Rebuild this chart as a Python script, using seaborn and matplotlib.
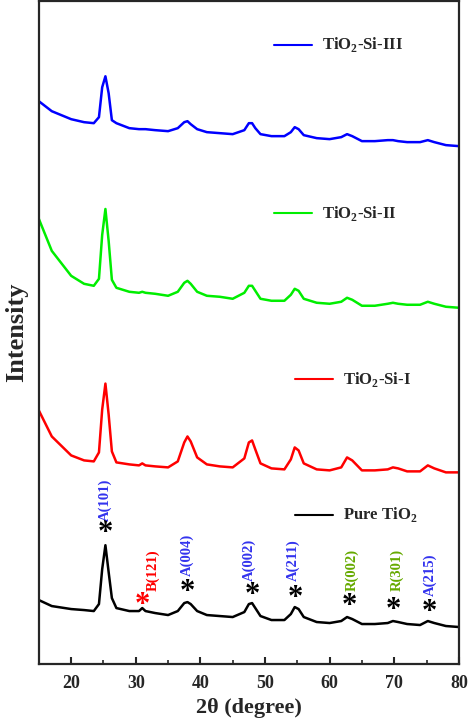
import matplotlib
matplotlib.use("Agg")
import matplotlib.pyplot as plt
import seaborn as sns
import pandas as pd

sns.set_style("ticks")
plt.rcParams['font.family'] = ['Liberation Serif', 'DejaVu Serif']
plt.rcParams['mathtext.fontset'] = 'custom'
plt.rcParams['mathtext.rm'] = 'Liberation Serif'
plt.rcParams['mathtext.bf'] = 'Liberation Serif:bold'

two_theta = [15, 17, 20, 22, 23.5, 24.3, 24.8, 25.3, 25.8, 26.3, 27, 29, 30.5, 31, 31.5, 33, 35, 36.5, 37.5, 38, 38.5, 39.5, 41, 43, 45, 46.8, 47.5, 48, 48.5, 49.3, 51, 53, 54, 54.6, 55.2, 56, 58, 60, 61.8, 62.7, 63.5, 65, 67, 69, 69.8, 70.6, 72, 74, 75.2, 76.2, 78, 80]

pure = [64, 58, 55, 54, 53, 60, 95, 119, 92, 66, 56, 53, 53, 56, 53, 51, 49, 53, 61, 62, 60, 53, 49, 48, 47, 52, 60, 61, 56, 48, 44, 44, 50, 57, 55, 47, 42, 41, 43, 47, 45, 40, 40, 41, 43, 42, 40, 39, 43, 41, 38, 37]
si1 = [254, 228, 209, 204, 203, 212, 255, 281, 250, 213, 202, 200, 199, 201, 199, 198, 197, 203, 222, 228, 223, 207, 200, 198, 197, 206, 222, 224, 215, 201, 196, 195, 205, 217, 214, 201, 195, 194, 197, 207, 204, 194, 194, 195, 197, 196, 193, 193, 199, 196, 192, 192]
si2 = [446, 414, 389, 381, 379, 386, 430, 456, 424, 385, 377, 373, 372, 373, 372, 371, 369, 373, 382, 384, 381, 373, 369, 368, 366, 372, 379, 379, 374, 366, 364, 364, 370, 376, 374, 366, 362, 361, 363, 367, 365, 359, 359, 361, 362, 361, 360, 360, 363, 361, 358, 357]
si3 = [564, 554, 546, 543, 542, 548, 578, 589, 572, 545, 542, 537, 536, 536, 536, 535, 534, 537, 543, 544, 541, 536, 533, 532, 531, 535, 542, 542, 537, 531, 529, 529, 533, 538, 536, 530, 527, 526, 528, 531, 529, 524, 524, 525, 525, 524, 523, 523, 525, 523, 520, 519]

series_names = ["Pure TiO$_\\mathbf{2}$", "TiO$_\\mathbf{2}$-Si-I", "TiO$_\\mathbf{2}$-Si-II", "TiO$_\\mathbf{2}$-Si-III"]
series_vals = [pure, si1, si2, si3]
colors = ["black", "#ff0000", "#00ee00", "#0000ff"]

peak_pos = [25.3, 31.0, 38.0, 48.0, 54.7, 63.0, 69.8, 75.5]
peak_labels = ["A(101)", "B(121)", "A(004)", "A(002)", "A(211)", "R(002)", "R(301)", "A(215)"]
peak_colors = ["#3333ee", "#ff0000", "#3333ee", "#3333ee", "#3333ee", "#66aa00", "#66aa00", "#3333ee"]
star_h = [131, 59, 72, 69, 66, 58, 54, 52]
label_x = [25.3, 32.7, 38.0, 47.5, 54.3, 63.5, 70.5, 75.6]
label_h = [164, 94, 109, 104, 104, 94, 94, 89]

fig = plt.figure(figsize=(4.74, 7.28), dpi=100)
ax = fig.add_axes([0.082, 0.088, 0.886, 0.91])

df = pd.DataFrame({"x": two_theta * 4,
                   "y": sum(series_vals, []),
                   "s": sum([[n] * len(two_theta) for n in series_names], [])})
sns.lineplot(data=df, x="x", y="y", hue="s", palette=colors, ax=ax, legend=False, lw=1.8)

ax.set_xlim(15, 80)
ax.set_ylim(0, 664)
ax.set_yticks([])
ax.set_xticks([20, 30, 40, 50, 60, 70, 80])
ax.set_xticks([25, 35, 45, 55, 65, 75], minor=True)
ax.tick_params(axis='x', direction='in', width=1.5, length=5, labelsize=13, pad=8)
ax.tick_params(axis='x', which='minor', direction='in', width=1.2, length=3)
for lab in ax.get_xticklabels():
    lab.set_fontweight('bold')
for sp in ax.spines.values():
    sp.set_linewidth(1.6)
ax.set_xlabel("2θ (degree)", fontsize=16, fontweight='bold')
ax.set_ylabel("Intensity", fontsize=19, fontweight='bold', labelpad=8)

leg_pos = [(0.61, 0.225), (0.61, 0.43), (0.56, 0.68), (0.56, 0.935)]
for (lx, ly), n, c in zip(leg_pos, series_names, colors):
    ax.plot([lx, lx + 0.09], [ly, ly], color=c, lw=1.5, transform=ax.transAxes)
    ax.text(lx + 0.115, ly, n, transform=ax.transAxes, fontsize=12, fontweight='bold', va='center')

for p, l, c, sh, lx, lh in zip(peak_pos, peak_labels, peak_colors, star_h, label_x, label_h):
    ax.text(p, sh, "*", color=("#ff0000" if l.startswith("B") else "black"), fontsize=22,
            ha='center', va='center', fontweight='bold')
    ax.text(lx, lh, l, color=c, fontsize=10.5, rotation=90, ha='center', va='center', fontweight='bold')

fig.savefig("out.png", dpi=100)
